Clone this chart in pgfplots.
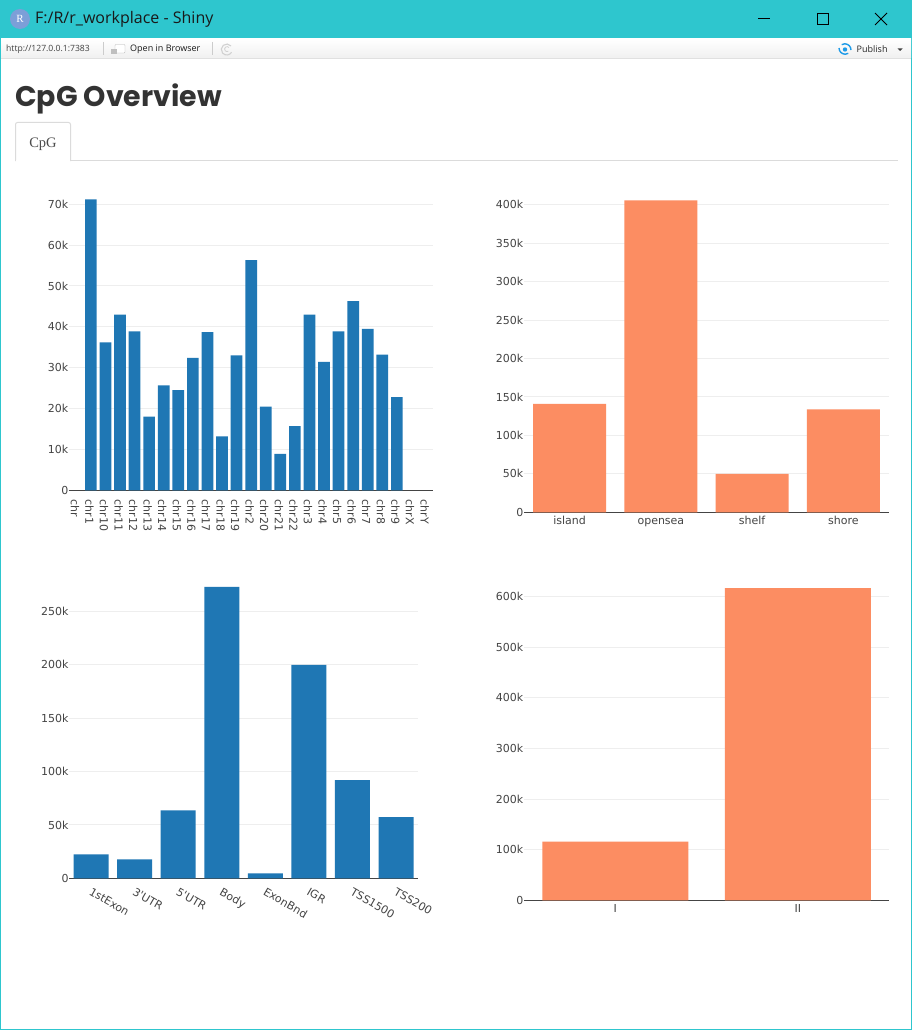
\documentclass[border=0pt]{standalone}
\usepackage{pgfplots}
\pgfplotsset{compat=1.18}
\usepackage{fontspec}
\setmainfont{Open Sans}
\newfontfamily\tl{DejaVu Sans}
\newfontfamily\hd{Poppins}
\newfontfamily\ser{Liberation Serif}
\definecolor{teal1}{HTML}{2EC6CE}
\definecolor{blueb}{HTML}{1F77B4}
\definecolor{coral}{HTML}{FC8D62}
\definecolor{axc}{HTML}{444444}
\definecolor{gridc}{HTML}{EEEEEE}
\definecolor{pub}{HTML}{1E9BE8}
\definecolor{ricon}{HTML}{7C9FD8}
\pgfplotsset{
  plotly/.style={
    scale only axis,
    anchor=south west,
    ybar,
    ymin=0,
    scaled y ticks=false,
    axis x line=bottom,
    axis y line=left,
    axis line style={-,draw=axc,line width=1pt},
    y axis line style={draw=none},
    major tick length=0pt,
    xtick style={draw=none},
    ytick style={draw=none},
    ymajorgrids,
    grid style={gridc,line width=1pt},
    tick label style={font=\tl\fontsize{11}{13}\selectfont,text=axc,inner sep=0pt},
    y tick label style={anchor=east,xshift=-0.5pt},
    x tick label style={anchor=north,yshift=-4pt,text height=8pt,text depth=2.2pt},
    clip=false,
  },
}
\begin{document}
\begin{tikzpicture}[x=1pt,y=-1pt]
\path[use as bounding box] (0,0) rectangle (912,1030);
\fill[white] (0,0) rectangle (912,1030);
% window chrome
\fill[teal1] (0,0) rectangle (912,38);
\fill[teal1] (0,0) rectangle (1,1030);
\fill[teal1] (911,0) rectangle (912,1030);
\fill[teal1] (0,1029) rectangle (912,1030);
\shade[top color=white,bottom color=black!6] (1,39) rectangle (911,58);
\draw[black!12,line width=0.7pt] (1,58.5) -- (911,58.5);
\fill[ricon] (20,19) circle (10);
\node[text=white,font=\ser\fontsize{11}{13}\selectfont] at (20,18.5) {R};
\node[anchor=west,inner sep=0pt,text=black!90,font=\rmfamily\fontsize{16}{19}\selectfont] at (35,19.5) {F:/R/r\_workplace - Shiny};
\draw[black,line width=0.8pt] (758,18.5) -- (770,18.5);
\draw[black,line width=0.9pt] (817,13.5) rectangle (828,24.5);
\draw[black,line width=0.8pt] (875,13) -- (887,25) (887,13) -- (875,25);
\node[anchor=west,inner sep=0pt,text=black!75,font=\rmfamily\fontsize{8.6}{10}\selectfont] at (6,49.5) {http://127.0.0.1:7383};
\draw[black!20] (103.5,42) -- (103.5,55) (212.5,42) -- (212.5,55);
\draw[black!30,fill=white,rounded corners=0.8pt] (115,44.5) rectangle (125,53);
\fill[black!25] (111,49) rectangle (117,54);
\node[anchor=west,inner sep=0pt,text=black!90,font=\rmfamily\fontsize{9}{10}\selectfont] at (130,49.5) {Open in Browser};
\draw[black!18,line width=1.1pt] (231,46) arc (-40:-330:5.5);
\draw[black!18,line width=0.8pt] (229,47.5) arc (-40:-300:2.5);
\draw[pub,line width=1.4pt] (839,48) arc (180:60:6.2) (851,50) arc (0:-120:6.2);
\fill[pub] (845,49.5) circle (2.2);
\node[anchor=west,inner sep=0pt,text=black!85,font=\rmfamily\fontsize{9}{10}\selectfont] at (856.5,49.5) {Publish};
\fill[black!75] (897.5,48.5) -- (902.5,48.5) -- (900,51) -- cycle;
% heading
\node[anchor=west,inner sep=0pt,text=black!80,font=\hd\bfseries\fontsize{28.4}{34}\selectfont] at (15,99) {CpG Overview};
% tab
\draw[black!14,line width=1pt] (15,160.5) -- (898,160.5);
\draw[black!14,line width=1pt,fill=white,rounded corners=2pt] (15.5,161) -- (15.5,122.5) -- (70.5,122.5) -- (70.5,161);
\fill[white] (16,160) rectangle (70,161.4);
\node[text=black!70,font=\ser\fontsize{14.5}{17}\selectfont] at (43,144) {CpG};
% chart 1
\begin{axis}[plotly,
  at={(69pt,-490.3pt)},width=364.3pt,height=306.5pt,
  xmin=-0.5,xmax=24.5,ymax=75000,bar width=11.7pt,
  xtick={0,...,24},
  xticklabels={chr,chr1,chr10,chr11,chr12,chr13,chr14,chr15,chr16,chr17,chr18,chr19,chr2,chr20,chr21,chr22,chr3,chr4,chr5,chr6,chr7,chr8,chr9,chrX,chrY},
  x tick label style={xshift=-1.5pt,yshift=-5pt,rotate=-90,anchor=west,text height=8pt,text depth=0pt},
  ytick={0,10000,20000,30000,40000,50000,60000,70000},
  yticklabels={0,10k,20k,30k,40k,50k,60k,70k},
]
\addplot[fill=blueb,draw=none] coordinates {
(1,71200)(2,36200)(3,43000)(4,38900)(5,18000)(6,25700)(7,24500)(8,32400)(9,38700)(10,13200)(11,33000)
(12,56300)(13,20500)(14,8900)(15,15700)(16,43000)(17,31400)(18,38900)(19,46300)(20,39500)(21,33200)(22,22800)};
\end{axis}
% chart 2
\begin{axis}[plotly,
  at={(524pt,-512.3pt)},width=365pt,height=327.6pt,
  xmin=-0.5,xmax=3.5,ymax=426000,bar width=73pt,
  xtick={0,1,2,3},xticklabels={island,opensea,shelf,shore},
  ytick={0,50000,100000,150000,200000,250000,300000,350000,400000},
  yticklabels={0,50k,100k,150k,200k,250k,300k,350k,400k},
]
\addplot[fill=coral,draw=none] coordinates {(0,141000)(1,405500)(2,50000)(3,134000)};
\end{axis}
% chart 3
\begin{axis}[plotly,
  at={(69.3pt,-878.3pt)},width=348.5pt,height=306.5pt,
  xmin=-0.5,xmax=7.5,ymax=287000,bar width=35pt,
  xtick={0,...,7},xticklabels={1stExon,3'UTR,5'UTR,Body,ExonBnd,IGR,TSS1500,TSS200},
  x tick label style={xshift=-1pt,yshift=-8.5pt,rotate=-30,anchor=west,text height=8pt,text depth=0pt},
  ytick={0,50000,100000,150000,200000,250000},
  yticklabels={0,50k,100k,150k,200k,250k},
]
\addplot[fill=blueb,draw=none] coordinates {(0,22500)(1,17800)(2,63500)(3,272800)(4,4700)(5,199800)(6,92000)(7,57200)};
\end{axis}
% chart 4
\begin{axis}[plotly,
  at={(524pt,-900.3pt)},width=365pt,height=328pt,
  xmin=-0.5,xmax=1.5,ymax=648000,bar width=146pt,
  xtick={0,1},xticklabels={I,II},
  ytick={0,100000,200000,300000,400000,500000,600000},
  yticklabels={0,100k,200k,300k,400k,500k,600k},
]
\addplot[fill=coral,draw=none] coordinates {(0,116000)(1,616500)};
\end{axis}
\end{tikzpicture}
\end{document}
